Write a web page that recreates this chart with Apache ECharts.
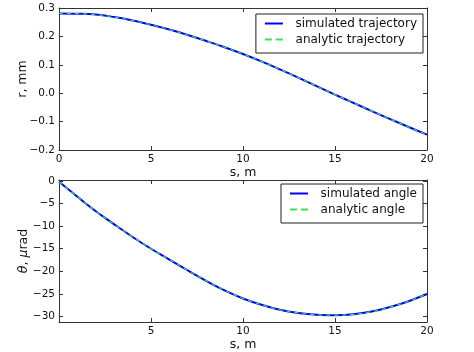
<!DOCTYPE html>
<html>
<head>
<meta charset="utf-8">
<script src="https://cdn.jsdelivr.net/npm/echarts@6/dist/echarts.min.js"></script>
<style>
html, body { margin: 0; padding: 0; background: #fff; }
#main { width: 474px; height: 352px; }
</style>
</head>
<body>
<div id="main"></div>
<script>
// s, m
var sValues = [0, 1, 2, 3, 4, 5, 6, 7, 8, 9, 10, 11, 12, 13, 14, 15, 16, 17, 18, 19, 20];
// r, mm
var rValues = [0.281, 0.280, 0.277, 0.268, 0.256, 0.241, 0.224, 0.205, 0.184, 0.162, 0.138,
	0.112, 0.084, 0.055, 0.025, -0.005, -0.034, -0.063, -0.091, -0.119, -0.146];
// theta, urad
var thetaValues = [-0.2, -3.5, -6.7, -9.6, -12.4, -15.0, -17.4, -19.8, -22.1, -24.2, -26.0,
	-27.4, -28.5, -29.2, -29.6, -29.7, -29.5, -28.9, -27.9, -26.6, -25.0];
var thetaTicks = [0, -5, -10, -15, -20, -25, -30];

var font = 'DejaVu Sans';
var blue = '#0000ff';
var green = '#3ee050';
var dashIcon = 'path://M0,0h7v2h-7z M11,0h7v2h-7z';

function pairs(xs, ys) {
	var out = [];
	for (var i = 0; i < xs.length; i++) {
		out.push([xs[i], ys[i]]);
	}
	return out;
}

function minus(txt) {
	return txt.replace('-', '\u2212');
}

var tick = { show: true, inside: true, length: 4, lineStyle: { color: '#333' } };
var line = { show: true, onZero: false, lineStyle: { color: '#333', width: 1 } };
var label = { color: '#111', fontFamily: font, fontSize: 10.5 };
var nameStyle = { color: '#111', fontFamily: font, fontSize: 12.5 };

function xAxis(grid, pos, withLabel) {
	return {
		type: 'value', gridIndex: grid, position: pos,
		min: 0, max: 20, interval: 5,
		name: withLabel ? 's, m' : '',
		nameLocation: 'middle', nameGap: 15,
		nameTextStyle: nameStyle,
		axisLine: line, axisTick: tick, splitLine: { show: false },
		axisLabel: withLabel ? Object.assign({ margin: 4, showMinLabel: grid == 0 }, label) : { show: false }
	};
}

function legend(names, top) {
	return {
		data: [
			{ name: names[0], icon: 'rect', itemStyle: { color: blue } },
			{ name: names[1], icon: dashIcon, itemStyle: { color: green, borderWidth: 0 }, lineStyle: { width: 0 } }
		],
		orient: 'vertical', right: 51, top: top,
		backgroundColor: '#fff', borderColor: '#222', borderWidth: 1,
		padding: [2, 6, 6, 9], itemGap: 1, itemWidth: 18, itemHeight: 2,
		formatter: function (n) { return '  ' + n; },
		textStyle: { color: '#111', fontFamily: font, fontSize: 12, lineHeight: 15 }
	};
}

function curve(name, xi, ys, analytic) {
	return {
		name: name, type: 'line', xAxisIndex: xi, yAxisIndex: xi,
		symbol: 'none', smooth: 0.4,
		lineStyle: analytic ? { color: green, width: 1.2, type: [4, 4] } : { color: blue, width: 2 },
		itemStyle: { color: analytic ? green : blue },
		data: pairs(sValues, ys)
	};
}

var option = {
	animation: false,
	backgroundColor: '#fff',
	grid: [
		{ left: 59, top: 8, width: 368, height: 142 },
		{ left: 59, top: 180, width: 368, height: 142 }
	],
	legend: [
		legend(['simulated trajectory', 'analytic trajectory'], 14),
		legend(['simulated angle', 'analytic angle'], 184)
	],
	xAxis: [
		xAxis(0, 'bottom', true),
		xAxis(0, 'top', false),
		xAxis(1, 'bottom', true),
		xAxis(1, 'top', false)
	],
	yAxis: [{
		type: 'value', gridIndex: 0, position: 'left',
		min: -0.2, max: 0.3, interval: 0.1,
		name: 'r, mm', nameLocation: 'middle', nameGap: 30, nameMoveOverlap: false,
		nameTextStyle: nameStyle,
		axisLine: line, axisTick: tick, splitLine: { show: false },
		axisLabel: Object.assign({
			margin: 4,
			formatter: function (v) { return minus((Math.abs(v) < 1e-9 ? 0 : v).toFixed(1)); }
		}, label)
	}, {
		type: 'value', gridIndex: 0, position: 'right',
		min: -0.2, max: 0.3, interval: 0.1,
		axisLine: line, axisTick: tick, splitLine: { show: false }, axisLabel: { show: false }
	}, {
		type: 'value', gridIndex: 1, position: 'left',
		min: -31.2, max: 0.2,
		name: '{i|\u03b8}, {i|\u03bc}rad', nameLocation: 'middle', nameGap: 29, nameMoveOverlap: false,
		nameTextStyle: Object.assign({
			rich: { i: { fontStyle: 'italic', fontFamily: font, fontSize: 12.5, color: '#111' } }
		}, nameStyle),
		axisLine: line,
		axisTick: Object.assign({ customValues: thetaTicks }, tick),
		splitLine: { show: false },
		axisLabel: Object.assign({
			margin: 4, customValues: thetaTicks,
			formatter: function (v) { return minus(String(v)); }
		}, label)
	}, {
		type: 'value', gridIndex: 1, position: 'right',
		min: -31.2, max: 0.2,
		axisLine: line,
		axisTick: Object.assign({ customValues: thetaTicks }, tick),
		splitLine: { show: false }, axisLabel: { show: false }
	}],
	series: [
		curve('simulated trajectory', 0, rValues, false),
		curve('analytic trajectory', 0, rValues, true),
		curve('simulated angle', 2, thetaValues, false),
		curve('analytic angle', 2, thetaValues, true)
	]
};

echarts.init(document.getElementById('main')).setOption(option);
</script>
</body>
</html>
